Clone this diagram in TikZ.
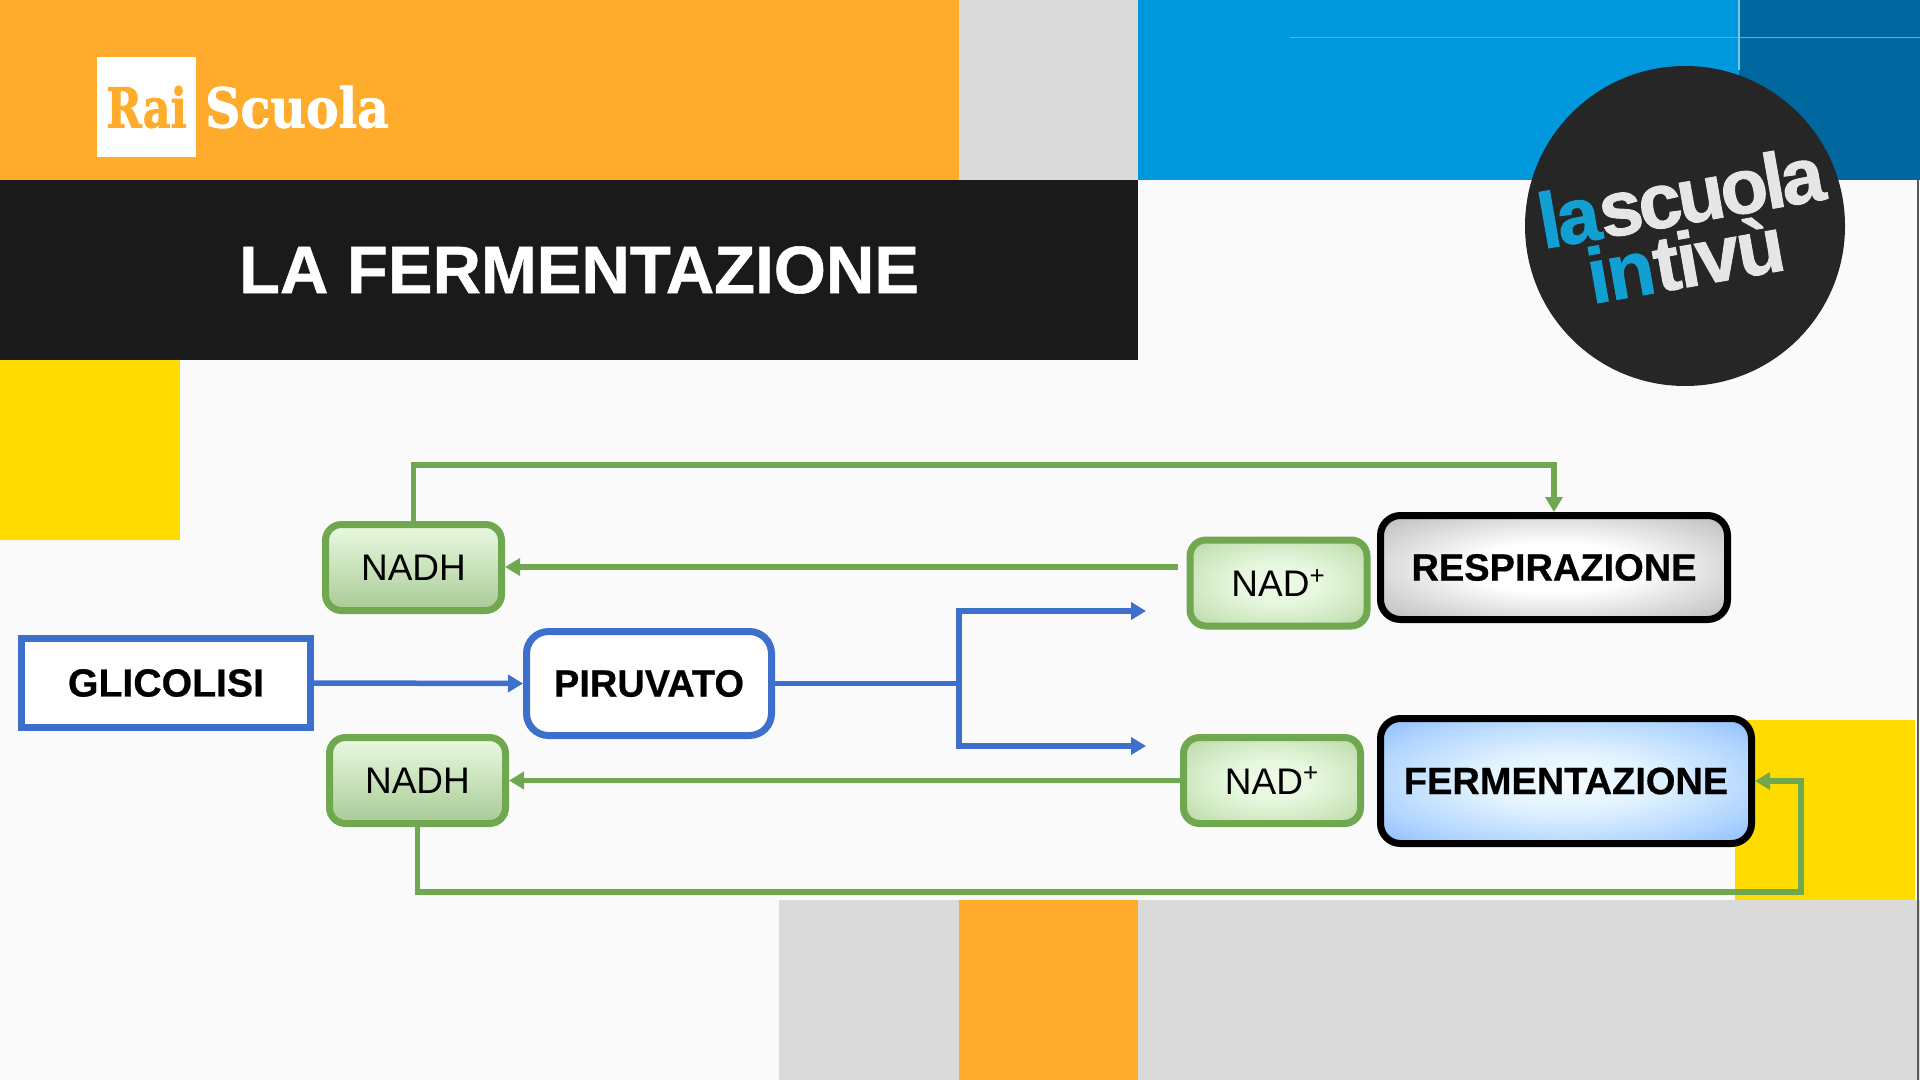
\documentclass[tikz,border=0pt]{standalone}
\usepackage{fontspec}
\usepackage{graphicx}
\setmainfont{Liberation Sans}
\newfontfamily\raifont{DejaVu Serif}
\newcommand{\sizedfont}[1]{\fontsize{#1}{#1}\selectfont}
\newcommand{\heavier}[1]{\bfseries\addfontfeature{FakeBold=#1}}
\usetikzlibrary{arrows.meta}

\definecolor{raiorange}{HTML}{FFAB2B}
\definecolor{raigray}{HTML}{DADADA}
\definecolor{raiblue}{HTML}{0098DD}
\definecolor{raidark}{HTML}{00689F}
\definecolor{raiblack}{HTML}{1A1A1A}
\definecolor{raiyellow}{HTML}{FFDB00}
\definecolor{raipaper}{HTML}{FAFAFA}
\definecolor{discblack}{HTML}{262626}
\definecolor{disctext}{HTML}{E6E6E6}
\definecolor{discblue}{HTML}{12A0D2}
\definecolor{flowblue}{HTML}{3D6FCC}
\definecolor{flowgreen}{HTML}{6FA84F}
\definecolor{nadhlight}{HTML}{EAF9E2}
\definecolor{nadhdeep}{HTML}{A8CB95}

\pgfdeclareradialshading{respshade}{\pgfpointorigin}{rgb(0bp)=(1,1,1); rgb(12bp)=(1,1,1); rgb(26bp)=(0.84,0.84,0.84); rgb(42bp)=(0.66,0.66,0.66)}
\pgfdeclareradialshading{fermshade}{\pgfpointorigin}{rgb(0bp)=(0.96,0.99,1); rgb(12bp)=(0.88,0.95,1); rgb(26bp)=(0.70,0.84,1); rgb(42bp)=(0.44,0.66,1)}
\pgfdeclareradialshading{nadshade}{\pgfpointorigin}{rgb(0bp)=(0.93,0.98,0.90); rgb(12bp)=(0.90,0.97,0.87); rgb(26bp)=(0.80,0.90,0.74); rgb(42bp)=(0.66,0.80,0.58)}

\tikzset{
    nadhbox/.style={draw=flowgreen, line width=3.5pt, rounded corners=8pt, top color=nadhlight, bottom color=nadhdeep,
        minimum width=88pt, minimum height=43pt, inner sep=0pt, font=\sizedfont{18.5}},
    nadbox/.style={draw=flowgreen, line width=3.5pt, rounded corners=8pt, shade, shading=nadshade,
        minimum width=88.5pt, minimum height=43pt, inner sep=0pt, font=\sizedfont{18.5}},
    cyclebox/.style={draw=black, line width=3.5pt, rounded corners=10pt, shade, inner sep=0pt, font=\sizedfont{19}\heavier{0.6}},
    bluearrow/.style={draw=flowblue, line width=2.75pt, -{Triangle[length=7.5pt,width=8.5pt]}},
    bluelink/.style={draw=flowblue, line width=2.75pt},
    greenarrow/.style={draw=flowgreen, line width=2.75pt, -{Triangle[length=7.5pt,width=8.5pt]}},
}

\begin{document}
\begin{tikzpicture}[x=0.5pt, y=-0.5pt]
    \useasboundingbox (0,0) rectangle (1920,1080);

    % Backdrop
    \fill[raipaper] (0,0) rectangle (1920,1080);
    \fill[raiorange] (0,0) rectangle (959,180);
    \fill[raigray] (959,0) rectangle (1138,180);
    \fill[raiblue] (1138,0) rectangle (1739,180);
    \fill[raidark] (1739,0) rectangle (1920,180);
    \fill[raiblack] (0,180) rectangle (1138,360);
    \fill[raiyellow] (0,360) rectangle (180,540);
    \fill[raigray] (779,900) rectangle (959,1080);
    \fill[raiorange] (959,900) rectangle (1138,1080);
    \fill[raigray] (1138,900) rectangle (1920,1080);
    \fill[raiyellow] (1735,720) rectangle (1915,900);
    \fill[black!65] (1917,180) rectangle (1919,1080);
    \draw[raiblue!70!white, line width=0.5pt] (1290,38) -- (1920,38);
    \draw[raiblue!55!white, line width=0.8pt] (1739,0) -- (1739,70);

    % Headers
    \fill[white] (97,57) rectangle (196,157);
    \node[text=raiorange, font=\raifont\sizedfont{27.5}\heavier{1.5}, inner sep=0pt] (railogo) at (146.5,107) {\scalebox{0.78}[1]{Rai}};
    \node[text=white, font=\raifont\sizedfont{27.5}\heavier{1.5}, inner sep=0pt] (scuolalogo) at (297,107) {\scalebox{0.89}[1]{Scuola}};
    \node[text=white, font=\sizedfont{33.5}\heavier{0.8}, inner sep=0pt] (title) at (579,270) {LA FERMENTAZIONE};

    % Disc
    \fill[discblack] (1685,226) circle (160);
    \node[rotate=10, anchor=base west, inner sep=0pt, font=\sizedfont{39}\heavier{1.2}\addfontfeature{LetterSpace=-5}] (discone) at (1543,249)
        {\textcolor{discblue}{la}\textcolor{disctext}{scuola}};
    \node[rotate=10, anchor=base west, inner sep=0pt, font=\sizedfont{39}\heavier{1.2}\addfontfeature{LetterSpace=-3}] (disctwo) at (1592,304)
        {\textcolor{discblue}{in}\textcolor{disctext}{tivù}};

    % Boxes
    \node[draw=flowblue, line width=3.5pt, fill=white, inner sep=0pt, minimum width=144.5pt, minimum height=44.5pt,
        font=\sizedfont{19.6}\heavier{0.6}] (glicolisi) at (166,683) {GLICOLISI};
    \node[draw=flowblue, line width=3.5pt, fill=white, rounded corners=11pt, inner sep=0pt, minimum width=122.5pt, minimum height=52pt,
        font=\sizedfont{19}\heavier{0.6}] (piruvato) at (649,683.5) {PIRUVATO};
    \node[nadhbox] (nadhtop) at (413.5,567.5) {NADH};
    \node[nadhbox] (nadhbottom) at (417.5,780.5) {NADH};
    \node[nadbox] (nadtop) at (1278.5,583) {NAD\textsuperscript{+}};
    \node[nadbox] (nadbottom) at (1272,780.5) {NAD\textsuperscript{+}};
    \node[cyclebox, shading=respshade, minimum width=173.5pt, minimum height=52pt] (respirazione) at (1554,567.5) {RESPIRAZIONE};
    \node[cyclebox, shading=fermshade, minimum width=185.5pt, minimum height=62.5pt] (fermentazione) at (1566,781) {FERMENTAZIONE};

    % Free ends
    \coordinate (nadtopend) at (1178,567);
    \coordinate (split) at (959,683.5);
    \coordinate (upperend) at (1146,611);
    \coordinate (lowerend) at (1146,746);
    \coordinate (toprail) at (413.5,465);
    \coordinate (bottomrail) at (417.5,892);
    \coordinate (siderail) at (1801,892);

    % Arrows
    \draw[bluearrow] (glicolisi.east) -- (piruvato.west);
    \draw[bluelink] (piruvato.east) -- (split);
    \draw[bluearrow] (upperend -| split) -- (upperend);
    \draw[bluearrow] (lowerend -| split) -- (lowerend);
    \draw[bluelink, line cap=rect] (upperend -| split) -- (lowerend -| split);
    \draw[greenarrow] (nadtopend) -- (nadtopend -| nadhtop.east);
    \draw[greenarrow] (nadbottom.west) -- (nadhbottom.east);
    \draw[greenarrow] (nadhtop.north) -- (toprail) -| (respirazione.north);
    \draw[greenarrow] (nadhbottom.south) -- (bottomrail) -- (siderail) |- (fermentazione.east);
\end{tikzpicture}
\end{document}
